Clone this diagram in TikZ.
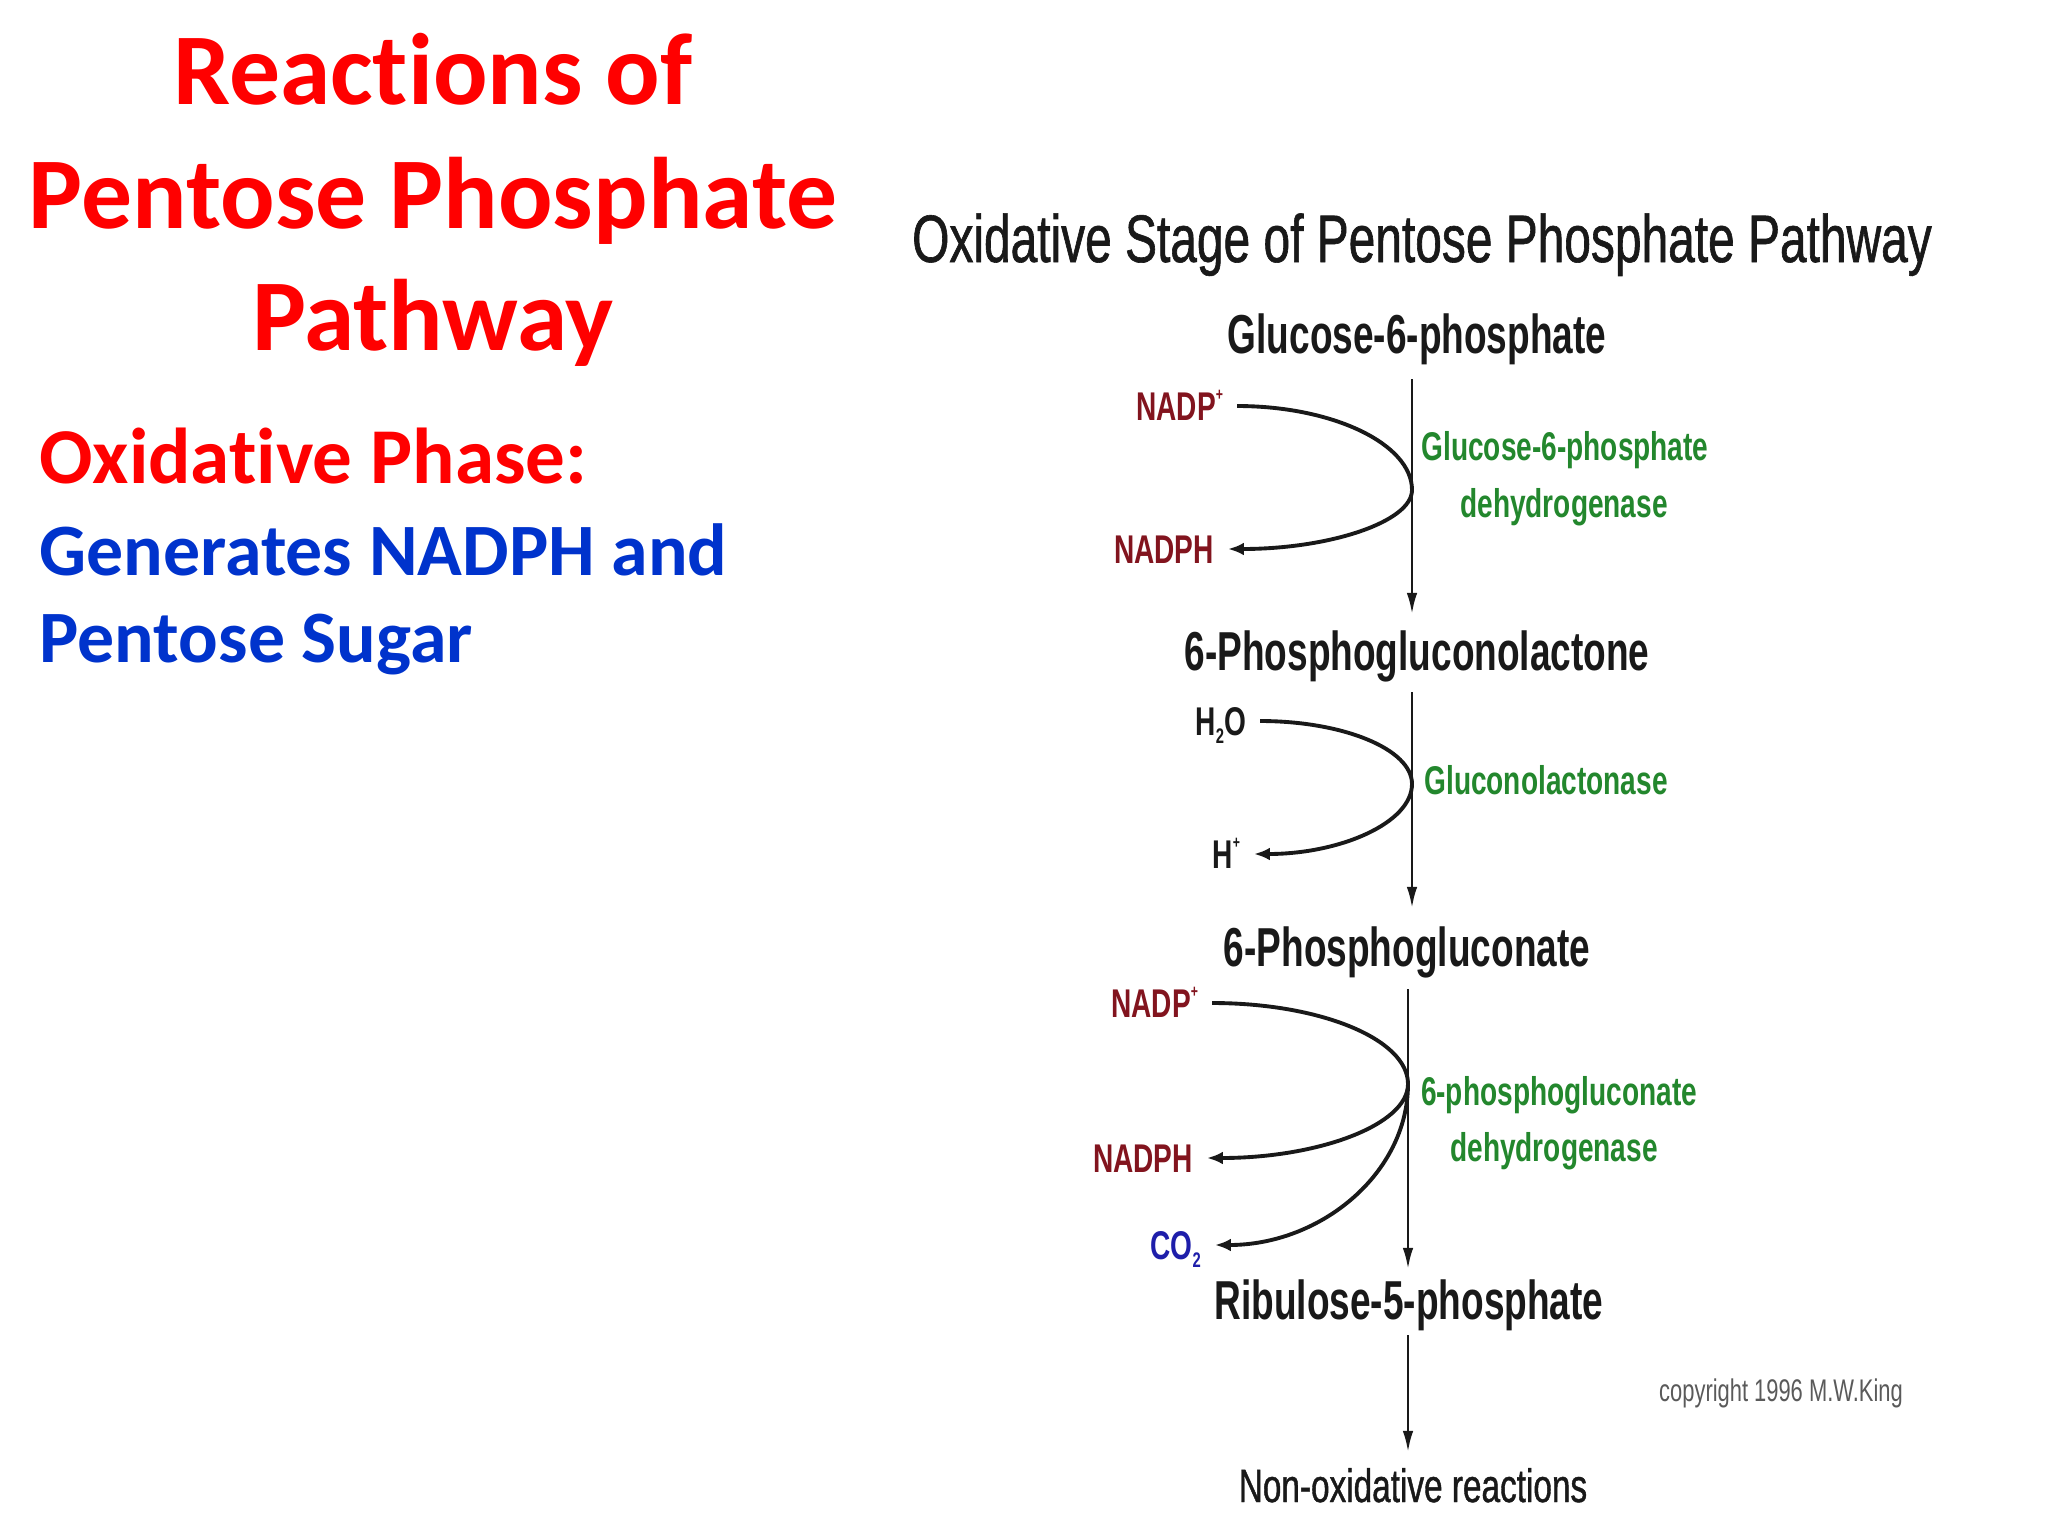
\documentclass[tikz,border=0pt]{standalone}
\usepackage{fontspec}
\setmainfont[Ligatures=NoCommon]{Carlito}
\newfontfamily\condA[FakeStretch=0.70]{Liberation Sans}
\newfontfamily\condT[FakeStretch=0.713,FakeBold=0.9]{Liberation Sans}
\newfontfamily\condB[FakeStretch=0.675]{Liberation Sans}
\usetikzlibrary{arrows.meta,calc}
\definecolor{ttlred}{RGB}{255,0,0}
\definecolor{ttlblue}{RGB}{0,51,204}
\definecolor{mar}{RGB}{130,20,30}
\definecolor{enz}{RGB}{35,135,45}
\definecolor{cob}{RGB}{30,30,170}
\definecolor{cpy}{RGB}{90,90,90}
\definecolor{ink}{RGB}{25,25,25}
\newcommand{\plusup}{\raisebox{0.5em}{\fontsize{5}{5}\selectfont +}}
\newcommand{\twodown}{\raisebox{-0.2em}{\fontsize{6}{6}\selectfont 2}}
\begin{document}
\begin{tikzpicture}[x=0.01cm,y=-0.01cm,
 ttl/.style={inner sep=0pt, anchor=base, text=ttlred, font=\fontsize{28.9}{34}\selectfont\bfseries},
 sub/.style={inner sep=0pt, anchor=base west, font=\fontsize{22.5}{27}\selectfont\bfseries},
 subb/.style={inner sep=0pt, anchor=base west, text=ttlblue, font=\fontsize{21}{25}\selectfont\bfseries},
 dtitle/.style={inner sep=0pt, anchor=base, text=ink, font=\condT\fontsize{19.1}{23}\selectfont},
 met/.style={inner sep=0pt, anchor=base, text=ink, font=\condB\bfseries\fontsize{15.6}{19}\selectfont},
 side/.style={inner xsep=0pt, inner ysep=0pt, outer xsep=4pt, outer ysep=0pt, anchor=east, text height=8.2pt, text depth=0pt, font=\condA\bfseries\fontsize{11.4}{14}\selectfont},
 enzl/.style={inner sep=0pt, anchor=base, text=enz, font=\condA\bfseries\fontsize{11.4}{14}\selectfont},
 vline/.style={draw=ink, line width=0.75pt, -{Latex[length=6pt,width=3pt]}},
 rxn/.style={draw=ink, line width=1.1pt, -{Latex[length=4.5pt,width=3.6pt]}},
]
\fill[white] (0,0) rectangle (2048,1536);
\useasboundingbox (0,0) rectangle (2048,1536);

% left text
\node[ttl] (t1) at (433,104.5) {Reactions of};
\node[ttl] (t2) at (433,228.5) {Pentose Phosphate};
\node[ttl] (t3) at (433,350) {Pathway};
\node[sub, text=ttlred] (s1) at (39,483) {Oxidative Phase:};
\node[subb] (s2) at (39,575) {Generates NADPH and};
\node[subb] (s3) at (39,662) {Pentose Sugar};

% diagram
\node[dtitle] (dt) at (1422,262) {Oxidative Stage of Pentose Phosphate Pathway};
\node[met] (g6p) at (1417,353) {Glucose-6-phosphate};
\node[met] (pgl) at (1417,670) {6-Phosphogluconolactone};
\node[met] (pgn) at (1407,966) {6-Phosphogluconate};
\node[met] (r5p) at (1409,1319) {Ribulose-5-phosphate};
\node[inner sep=0pt, anchor=base, text=ink, font=\condT\fontsize{13.3}{16}\selectfont] (nox) at (1413,1502) {Non-oxidative reactions};
\node[inner sep=0pt, anchor=base, text=cpy, font=\condA\fontsize{8.9}{11}\selectfont] (cpr) at (1781,1401) {copyright 1996 M.W.King};

\coordinate (ax) at (1412,0);
\coordinate (axb) at (1408,0);

\draw[vline] ($(g6p.base -| ax)+(0,26)$) -- ($(pgl.base -| ax)+(0,-56)$);
\draw[vline] ($(pgl.base -| ax)+(0,22)$) -- ($(pgn.base -| ax)+(0,-58)$);
\draw[vline] ($(pgn.base -| axb)+(0,23)$) -- ($(r5p.base -| axb)+(0,-50)$);
\draw[vline] ($(r5p.base -| axb)+(0,16)$) -- ($(nox.base -| axb)+(0,-50)$);

% enzymes
\node[enzl] (e1a) at (1565,460) {Glucose-6-phosphate};
\node[enzl] (e1b) at (1564,517) {dehydrogenase};
\node[enzl] (e2) at (1546,794) {Gluconolactonase};
\node[enzl] (e3a) at (1559,1105) {6-phosphogluconate};
\node[enzl] (e3b) at (1554,1161) {dehydrogenase};

% side reactants / products
\node[side, text=mar] (nadpA) at (1237,406) {NADP\plusup};
\node[side, text=mar] (nadphA) at (1228,549) {NADPH};
\node[side, text=ink] (h2o) at (1260,721) {H\twodown O};
\node[side, text=ink] (hplus) at (1254,854) {H\plusup};
\node[side, text=mar] (nadpC) at (1212,1003) {NADP\plusup};
\node[side, text=mar] (nadphC) at (1207,1158) {NADPH};
\node[side, text=cob] (co2) at (1215,1245) {CO\twodown};

\coordinate (k1) at (1412,490);
\coordinate (k2) at (1412,784);
\coordinate (k3) at (1408,1084);

\draw[rxn] (nadpA.east) .. controls (1333,406) and (1412,444) .. (k1)
  .. controls (1412,522) and (1329,549) .. (nadphA.east);
\draw[rxn] (h2o.east) .. controls (1343,721) and (1412,749) .. (k2)
  .. controls (1412,823) and (1340,854) .. (hplus.east);
\draw[rxn] (nadpC.east) .. controls (1320,1003) and (1408,1039) .. (k3)
  .. controls (1408,1125) and (1318,1158) .. (nadphC.east);
\draw[rxn] (k3) .. controls (1408,1173) and (1321,1245) .. (co2.east);
\end{tikzpicture}
\end{document}
